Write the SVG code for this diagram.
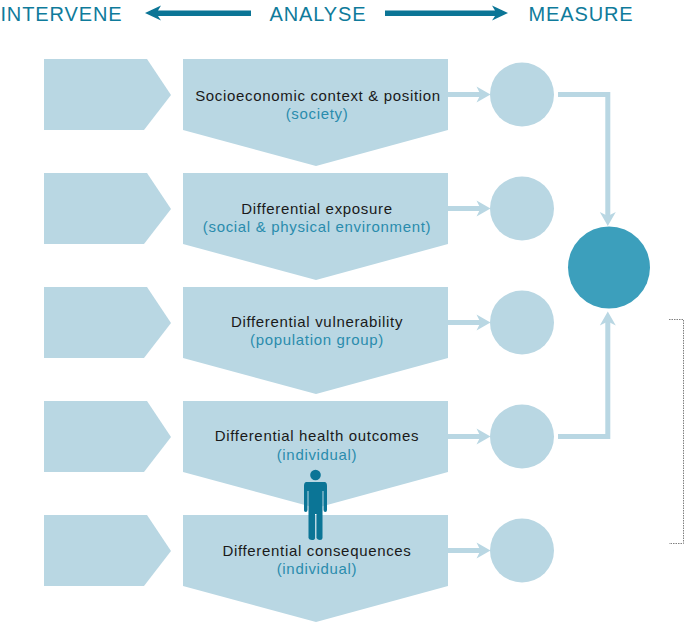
<svg xmlns="http://www.w3.org/2000/svg" width="685" height="622" viewBox="0 0 685 622">
<style>
.s{fill:#b9d7e3}
.c{fill:none;stroke:#b9d7e3;stroke-width:5}
.h{font:20px "Liberation Sans",Arial,sans-serif;fill:#0f7b9b;letter-spacing:.9px;text-anchor:middle}
.t{font:15px "Liberation Sans",Arial,sans-serif;fill:#1a1a1a;letter-spacing:.67px;text-anchor:middle}
.u{font:15px "Liberation Sans",Arial,sans-serif;fill:#2a8cad;letter-spacing:.67px;text-anchor:middle}
.d{fill:#0b7596}
</style>
<defs>
<path id="left" d="M44 0H147L171 36L144 71H44Z"/>
<path id="mid" d="M183 0H448V71L316 107L183 71Z"/>
<path id="ah" d="M0 0L-14 -8L-10 0L-14 8Z"/>
</defs>
<g id="header">
<text class="h" x="61.500" y="21">INTERVENE</text>
<text class="h" x="318" y="21">ANALYSE</text>
<text class="h" x="581" y="21">MEASURE</text>
<path class="d" d="M145 13L161 5.500L158 10.500H251V16H158L161 20.500Z"/>
<path class="d" d="M508 13L492 5.500L495 10.500H385V16H495L492 20.500Z"/>
</g>
<g id="connectors">
<g id="c1"><path class="c" d="M448 94.500H482"/><use href="#ah" class="s" transform="translate(490.500,94.500)"/></g>
<g id="c2"><path class="c" d="M448 208.500H482"/><use href="#ah" class="s" transform="translate(490.500,208.500)"/></g>
<g id="c3"><path class="c" d="M448 322.500H482"/><use href="#ah" class="s" transform="translate(490.500,322.500)"/></g>
<g id="c4"><path class="c" d="M448 436.500H482"/><use href="#ah" class="s" transform="translate(490.500,436.500)"/></g>
<g id="c5"><path class="c" d="M448 550.500H482"/><use href="#ah" class="s" transform="translate(490.500,550.500)"/></g>
<path class="c" d="M558 94.500H607.800V218"/>
<use href="#ah" class="s" transform="translate(607.800,226) rotate(90)"/>
<path class="c" d="M558 436.500H607.800V320"/>
<use href="#ah" class="s" transform="translate(607.800,311.500) rotate(-90)"/>
</g>
<g id="row1"><use href="#left" class="s" y="59"/><use href="#mid" class="s" y="59"/><circle class="s" cx="522" cy="94.500" r="32"/>
<text class="t" x="318" y="101">Socioeconomic context &amp; position</text><text class="u" x="317" y="119">(society)</text></g>
<g id="row2"><use href="#left" class="s" y="173"/><use href="#mid" class="s" y="173"/><circle class="s" cx="522" cy="208.500" r="32"/>
<text class="t" x="317" y="214">Differential exposure</text><text class="u" x="317" y="232">(social &amp; physical environment)</text></g>
<g id="row3"><use href="#left" class="s" y="287"/><use href="#mid" class="s" y="287"/><circle class="s" cx="522" cy="322.500" r="32"/>
<text class="t" x="317" y="327">Differential vulnerability</text><text class="u" x="317" y="345">(population group)</text></g>
<g id="row4"><use href="#left" class="s" y="401"/><use href="#mid" class="s" y="401"/><circle class="s" cx="522" cy="436.500" r="32"/>
<text class="t" x="317" y="441">Differential health outcomes</text><text class="u" x="317" y="460">(individual)</text></g>
<g id="row5"><use href="#left" class="s" y="515"/><use href="#mid" class="s" y="515"/><circle class="s" cx="522" cy="550.500" r="32"/>
<text class="t" x="317" y="556">Differential consequences</text><text class="u" x="317" y="574">(individual)</text></g>
<g id="outcome"><circle cx="609" cy="267.500" r="41" fill="#3c9fbc"/></g>
<g id="person" class="d">
<circle cx="315.500" cy="475" r="5.300"/>
<path d="M306.500 482H324.500Q327 482 327 486V510Q327 512 325.300 512T323.500 510V491H322.500V538Q322.500 540 320 540T316.500 538V514H315V538Q315 540 312 540T308.500 538V491H307.500V510Q307.500 512 305.700 512T304 510V486Q304 482 306.500 482Z"/>
</g>
<path id="bracket" d="M669 319.500H683.500V543.500H669" fill="none" stroke="#808080" stroke-width="1" stroke-dasharray="1.500 1"/>
</svg>
